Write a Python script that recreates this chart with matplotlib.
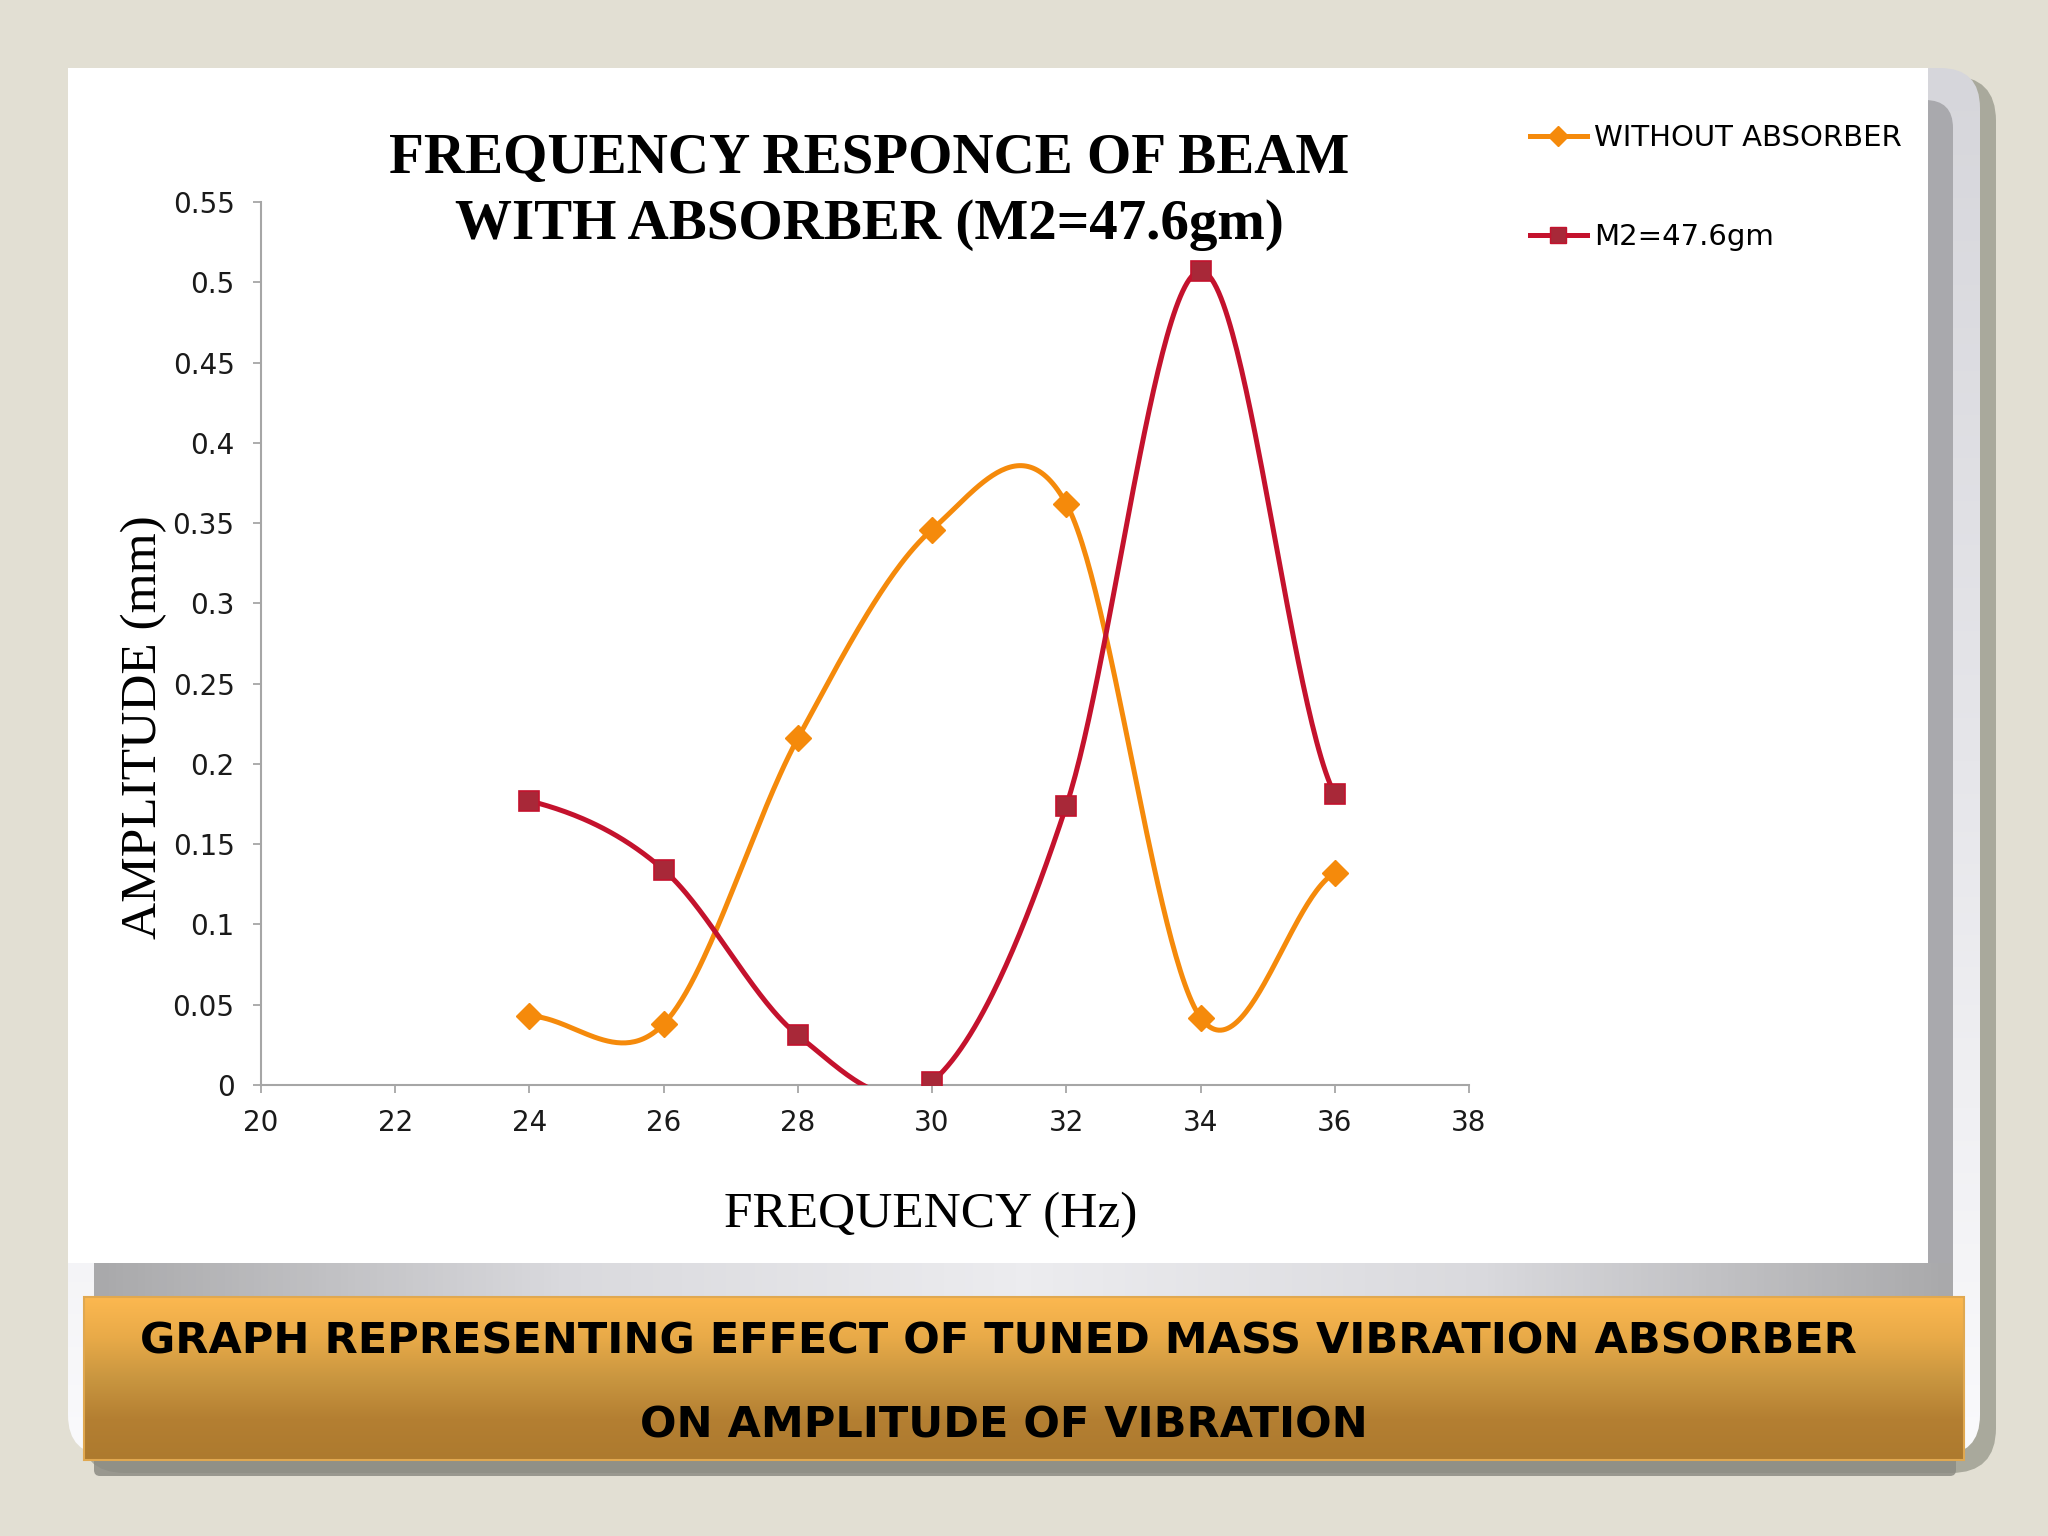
import numpy as np
import matplotlib
matplotlib.use("Agg")
import matplotlib.pyplot as plt
from matplotlib.patches import FancyBboxPatch, Rectangle
from matplotlib.lines import Line2D

# ---------------- data ----------------
frequency = [24, 26, 28, 30, 32, 34, 36]
without_absorber = [0.043, 0.038, 0.216, 0.346, 0.362, 0.042, 0.132]
with_absorber = [0.177, 0.134, 0.031, 0.002, 0.174, 0.507, 0.181]
series_labels = ["WITHOUT ABSORBER", "M2=47.6gm"]
x_ticks = [20, 22, 24, 26, 28, 30, 32, 34, 36, 38]
y_ticks = [0, 0.05, 0.1, 0.15, 0.2, 0.25, 0.3, 0.35, 0.4, 0.45, 0.5, 0.55]
y_tick_labels = ["0", "0.05", "0.1", "0.15", "0.2", "0.25", "0.3", "0.35", "0.4", "0.45", "0.5", "0.55"]
title = "FREQUENCY RESPONCE OF BEAM\nWITH ABSORBER (M2=47.6gm)"
x_label = "FREQUENCY (Hz)"
y_label = "AMPLITUDE (mm)"
banner_line1 = "GRAPH REPRESENTING EFFECT OF TUNED MASS VIBRATION ABSORBER"
banner_line2 = "ON AMPLITUDE OF VIBRATION"

ORANGE = "#F58A0B"
RED = "#C4122D"
RED_MK = "#A82838"


def smooth(xs, ys, n=60):
    """Excel-like smoothed line (Catmull-Rom / cubic Hermite)."""
    xs = np.asarray(xs, float)
    ys = np.asarray(ys, float)
    m = np.zeros_like(ys)
    for i in range(len(ys)):
        if i == 0:
            m[i] = (ys[1] - ys[0]) / (xs[1] - xs[0]) * 0.5
        elif i == len(ys) - 1:
            m[i] = (ys[-1] - ys[-2]) / (xs[-1] - xs[-2]) * 0.5
        else:
            m[i] = (ys[i + 1] - ys[i - 1]) / (xs[i + 1] - xs[i - 1])
    ox, oy = [], []
    for i in range(len(xs) - 1):
        h = xs[i + 1] - xs[i]
        t = np.linspace(0, 1, n, endpoint=(i == len(xs) - 2))
        h00 = 2 * t**3 - 3 * t**2 + 1
        h10 = t**3 - 2 * t**2 + t
        h01 = -2 * t**3 + 3 * t**2
        h11 = t**3 - t**2
        ox.append(xs[i] + t * h)
        oy.append(h00 * ys[i] + h10 * h * m[i] + h01 * ys[i + 1] + h11 * h * m[i + 1])
    return np.concatenate(ox), np.concatenate(oy)


W, H = 2048, 1536
fig = plt.figure(figsize=(W / 100, H / 100), dpi=100)
fig.patch.set_facecolor("#E2DFD3")

# ---------------- background decoration (pixel coordinates) ----------------
bg = fig.add_axes([0, 0, 1, 1], zorder=0)
bg.set_xlim(0, W)
bg.set_ylim(H, 0)
bg.axis("off")


def rrect(x0, y0, x1, y1, r, color, z):
    p = FancyBboxPatch((x0 + r, y0 + r), (x1 - x0) - 2 * r, (y1 - y0) - 2 * r,
                       boxstyle=f"round,pad={r}", facecolor=color, edgecolor="none", zorder=z)
    bg.add_patch(p)
    return p


# outer shadow
rrect(80, 76, 1996, 1473, 45, "#A9A99C", 1)
# light frame with vertical gradient
lf = rrect(68, 68, 1980, 1455, 40, "none", 2)
grad_v = np.linspace(0, 1, 256).reshape(-1, 1)
light_cmap = matplotlib.colors.LinearSegmentedColormap.from_list("lf", ["#D6D6DB", "#E6E6EA", "#FAFAFC"])
im = bg.imshow(grad_v, cmap=light_cmap, extent=(68, 1980, 1455, 68), aspect="auto", zorder=2)
im.set_clip_path(lf)
# darker gray band right of panel
rrect(1900, 100, 1953, 1320, 28, "#A9A9AD", 3)
# gray band below panel with horizontal gradient
grad_h = np.concatenate([np.linspace(0, 1, 128), np.linspace(1, 0, 128)]).reshape(1, -1)
gray_cmap = matplotlib.colors.LinearSegmentedColormap.from_list("gb", ["#A9A9AB", "#D9D9DD", "#ECECEF"])
bg.imshow(grad_h, cmap=gray_cmap, extent=(94, 1953, 1300, 1263), aspect="auto", zorder=3)
# white chart panel
bg.add_patch(Rectangle((68, 68), 1928 - 68, 1263 - 68, facecolor="white", edgecolor="none", zorder=4))
# banner shadow
bg.add_patch(FancyBboxPatch((100, 1440), 1850, 30, boxstyle="round,pad=6",
                            facecolor="#8C8C84", edgecolor="none", alpha=0.85, zorder=5))
# orange banner with vertical gradient
banner_cmap = matplotlib.colors.LinearSegmentedColormap.from_list(
    "bn", ["#FCB850", "#E8AA48", "#C99640", "#B47F32", "#AD7A2E"])
bg.imshow(grad_v, cmap=banner_cmap, extent=(84, 1964, 1460, 1297), aspect="auto", zorder=6)
bg.add_patch(Rectangle((84, 1297), 1880, 163, facecolor="none", edgecolor="#E0A850", lw=1.5, zorder=7))

bg.text(998, 1341, banner_line1, ha="center", va="center", fontsize=31,
        fontweight="bold", family="DejaVu Sans", color="black", zorder=8)
bg.text(1004, 1426, banner_line2, ha="center", va="center", fontsize=31,
        fontweight="bold", family="DejaVu Sans", color="black", zorder=8)

# ---------------- chart ----------------
left, right = 261 / W, 1469 / W
bottom, top = 1 - 1085 / H, 1 - 202 / H
ax = fig.add_axes([left, bottom, right - left, top - bottom], zorder=2)
ax.set_facecolor("none")

sx, sy = smooth(frequency, without_absorber)
ax.plot(sx, sy, color=ORANGE, lw=3.6, solid_capstyle="round", zorder=3)
ax.plot(frequency, without_absorber, linestyle="none", marker="D", markersize=13,
        color=ORANGE, markeredgecolor=ORANGE, zorder=4)
sx2, sy2 = smooth(frequency, with_absorber)
ax.plot(sx2, sy2, color=RED, lw=3.6, solid_capstyle="round", zorder=3)
ax.plot(frequency, with_absorber, linestyle="none", marker="s", markersize=15,
        color=RED_MK, markeredgecolor=RED, markeredgewidth=1.2, zorder=4)

ax.set_xlim(20, 38)
ax.set_ylim(0, 0.55)
ax.set_xticks(x_ticks)
ax.set_xticklabels([str(t) for t in x_ticks])
ax.set_yticks(y_ticks)
ax.set_yticklabels(y_tick_labels)
for s in ["top", "right"]:
    ax.spines[s].set_visible(False)
for s in ["left", "bottom"]:
    ax.spines[s].set_color("#A6A6A6")
    ax.spines[s].set_linewidth(1.5)
ax.tick_params(axis="both", direction="out", length=6, width=1.3, color="#A6A6A6",
               labelsize=20, labelcolor="#1A1A1A")
ax.tick_params(axis="y", pad=13)
ax.tick_params(axis="x", pad=11)
for lab in ax.get_xticklabels() + ax.get_yticklabels():
    lab.set_family("DejaVu Sans")

ax.set_xlabel(x_label, family="Liberation Serif", fontsize=37, color="black")
ax.xaxis.set_label_coords((931 - 261) / 1208, (1085 - 1215) / 883)
ax.xaxis.label.set_va("center")
ax.set_ylabel(y_label, family="Liberation Serif", fontsize=37, color="black")
ax.yaxis.set_label_coords((144 - 261) / 1208, (1085 - 727) / 883)
ax.yaxis.label.set_va("center")

fig.text(869 / W, 1 - 192 / H, title, ha="center", va="center", fontsize=41,
         fontweight="bold", family="Liberation Serif", linespacing=1.34, color="black")

handles = [
    Line2D([], [], color=ORANGE, lw=3.6, marker="D", markersize=10, markeredgecolor=ORANGE),
    Line2D([], [], color=RED, lw=3.6, marker="s", markersize=12, markerfacecolor=RED_MK,
           markeredgecolor=RED),
]
leg = fig.legend(handles, series_labels, loc="upper left",
                 bbox_to_anchor=(1530 / W, 1 - 124 / H), frameon=False,
                 prop={"family": "DejaVu Sans", "size": 21},
                 handlelength=1.95, handletextpad=0.25, labelspacing=2.45,
                 borderpad=0, borderaxespad=0)

fig.savefig("out.png", dpi=100, facecolor=fig.get_facecolor())
